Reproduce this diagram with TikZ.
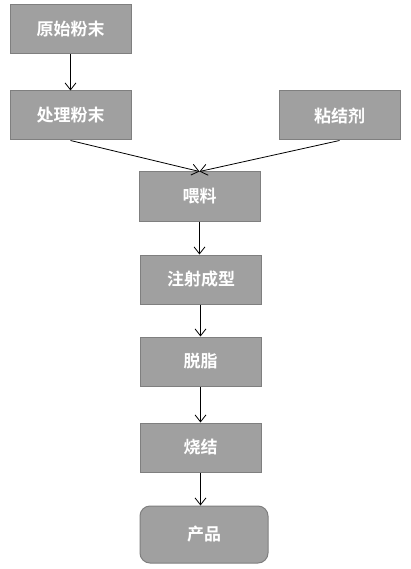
\documentclass[tikz,border=0pt]{standalone}
\usepackage{fontspec}
\newfontfamily\cjk{Noto Sans CJK SC}[BoldFont={Noto Sans CJK SC Bold}]
\usetikzlibrary{arrows.meta}
\definecolor{boxfill}{HTML}{A0A0A0}
\definecolor{boxline}{HTML}{7F7F7F}
\tikzset{
  stepbox/.style={draw=boxline, fill=boxfill, line width=1pt, inner sep=0pt,
    font=\cjk\bfseries\fontsize{17}{20}\selectfont, text=white},
  flow/.style={-{Straight Barb[length=7pt,width=11pt]}, line width=0.8pt, black}
}
\begin{document}
\begin{tikzpicture}[x=1pt,y=-1pt]
\useasboundingbox (0,0) rectangle (411,569);
\fill[white] (0,0) rectangle (411,569);
\node[stepbox, minimum width=121pt, minimum height=49pt] (raw) at (70.5,29.5) {原始粉末};
\node[stepbox, minimum width=121pt, minimum height=49pt] (proc) at (70.5,115.5) {处理粉末};
\node[stepbox, minimum width=121pt, minimum height=49pt] (bind) at (339.5,115.5) {粘结剂};
\node[stepbox, minimum width=121pt, minimum height=49pt] (feed) at (199.5,196.5) {喂料};
\node[stepbox, minimum width=121pt, minimum height=49pt] (inj) at (201,279.5) {注射成型};
\node[stepbox, minimum width=121pt, minimum height=49pt] (deg) at (200.5,361.5) {脱脂};
\node[stepbox, minimum width=121pt, minimum height=49pt] (sin) at (200.5,447.5) {烧结};
\node[stepbox, rounded corners=10pt, minimum width=128pt, minimum height=57pt] (prod) at (204,534.5) {产品};
\draw[flow] (raw.south) -- (proc.north);
\draw[flow] (proc.south) -- (feed.north);
\draw[flow] (bind.south) -- (feed.north);
\draw[flow] (feed.south) -- (feed.south |- inj.north);
\draw[flow] (inj.south -| deg.north) -- (deg.north);
\draw[flow] (deg.south) -- (sin.north);
\draw[flow] (sin.south) -- (sin.south |- prod.north);
\end{tikzpicture}
\end{document}
